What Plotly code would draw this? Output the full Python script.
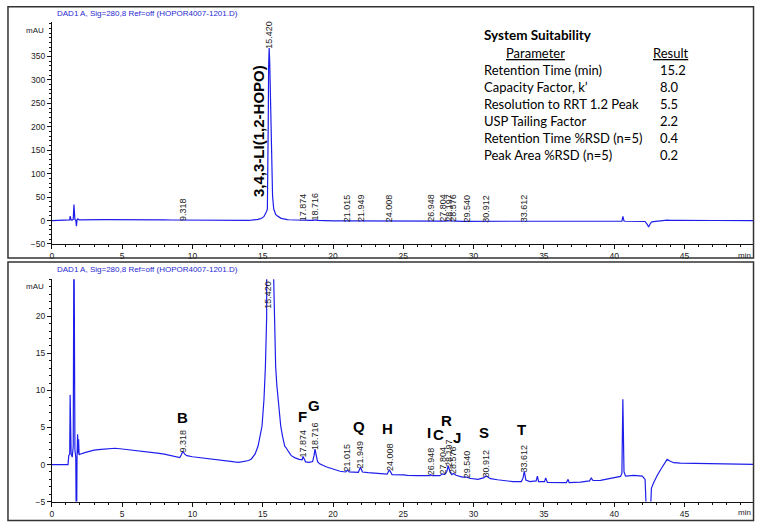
import numpy as np
import plotly.graph_objects as go

# ---------------- data ----------------
time_min = [
    0.0, 1.15, 1.20, 1.27, 1.30, 1.32, 1.34, 1.37, 1.45, 1.52, 1.57, 1.61, 1.64, 1.70,
    1.75, 1.79, 1.83, 1.87, 1.90, 1.94, 2.0, 2.4, 3.0, 3.5, 4.0, 4.5, 5.0, 5.5, 6.0,
    6.5, 7.0, 7.5, 8.0, 8.5, 8.9, 9.1, 9.2, 9.32, 9.45, 9.6, 10.0, 10.6, 11.6, 12.4,
    13.0, 13.3, 13.7, 14.0, 14.19, 14.45, 14.67, 14.85, 14.95, 15.09, 15.19, 15.28,
    15.33, 15.36, 15.39, 15.42, 15.46, 15.50, 15.54, 15.58, 15.63, 15.70, 15.78,
    15.83, 15.92, 16.00, 16.09, 16.18, 16.28, 16.40, 16.56, 16.65, 16.75, 16.85,
    17.03, 17.3, 17.6, 17.80, 17.87, 17.93, 18.05, 18.3, 18.55, 18.65, 18.72, 18.80,
    18.90, 19.05, 19.5, 20.0, 20.5, 20.9, 21.02, 21.15, 21.8, 21.95, 22.1, 22.5,
    23.0, 23.5, 23.85, 24.01, 24.2, 25.0, 25.3, 26.0, 26.9, 26.95, 27.05, 27.6,
    27.8, 27.95, 28.10, 28.20, 28.32, 28.45, 28.58, 28.75, 29.2, 29.54, 29.7, 30.3,
    30.7, 30.91, 31.2, 31.7, 32.3, 32.8, 33.4, 33.52, 33.61, 33.72, 34.0, 34.45,
    34.54, 34.62, 35.05, 35.13, 35.25, 35.7, 36.6, 36.72, 36.8, 37.6, 38.25, 38.37,
    38.5, 39.03, 39.6, 40.2, 40.45, 40.55, 40.62, 40.70, 40.81, 41.4, 42.0, 42.2,
    42.35, 42.45, 42.55, 42.65, 42.8, 43.06, 43.4, 43.77, 44.0, 44.24, 44.71, 47.1,
    47.2, 49.9,
]
signal_mau = [
    0.0, 0.0, 1.2, 1.4, 9.4, 7.0, 8.2, 1.4, 1.0, 2.5, 34.0, 12.6, 2.0, 1.0,
    -12.0, 1.0, 4.1, 1.5, 3.4, 1.3, 1.4, 1.65, 1.95, 2.05, 2.1, 2.2, 2.1, 2.0, 1.95,
    1.85, 1.7, 1.55, 1.4, 1.2, 1.05, 0.95, 1.3, 1.8, 1.4, 1.2, 1.05, 0.9, 0.62, 0.45,
    0.35, 0.3, 0.4, 0.55, 0.76, 1.4, 2.5, 4.0, 5.2, 8.8, 13.2, 19.9,
    25.0, 80.0, 200.0, 330.0, 368.0, 335.0, 260.0, 180.0, 105.0, 52.0, 25.0,
    20.0, 13.2, 10.8, 8.8, 6.8, 5.2, 3.9, 2.5, 2.3, 1.9, 1.7,
    1.2, 0.9, 0.7, 0.65, 1.1, 0.9, 0.35, 0.3, 0.4, 1.2, 2.1, 1.3,
    0.4, 0.1, -0.3, -0.6, -0.9, -1.0, -0.75, -1.0, -1.05, -0.35, -1.0, -1.1,
    -1.15, -1.3, -1.3, -0.7, -1.35, -1.4, -1.47, -1.5, -1.5, -1.35, -1.5, -1.5,
    -1.25, -1.35, -0.9, -0.15, -1.0, -1.35, -1.2, -1.45, -1.7, -1.7, -1.85, -2.0,
    -1.8, -1.55, -1.9, -2.05, -2.2, -2.3, -2.3, -1.8, -0.9, -2.1, -2.3, -2.2,
    -1.56, -2.3, -2.3, -1.8, -2.4, -2.45, -2.45, -2.0, -2.45, -2.36, -2.2, -1.83,
    -2.15, -2.14, -1.95, -1.7, -1.6, -1.2, 8.8, -1.0, -1.56, -1.47, -1.56, -2.0,
    -8.0, -14.0, -8.0, -3.2, -2.5, -1.47, -0.4, 0.7, 0.45, 0.25, 0.18, 0.13,
    0.04, 0.02,
]

peak_rt = [9.318, 15.420, 17.874, 18.716, 21.015, 21.949, 24.008, 26.948,
           27.804, 28.197, 28.576, 29.540, 30.912, 33.612]
peak_text = ["9.318", "15.420", "17.874", "18.716", "21.015", "21.949", "24.008",
             "26.948", "27.804", "28.197", "28.576", "29.540", "30.912", "33.612"]

impurity_letters = ["B", "F", "G", "Q", "H", "I", "C", "R", "J", "S", "T"]
impurity_rt = [9.3, 17.8, 18.64, 21.84, 23.9, 26.8, 27.5, 28.1, 28.8, 30.75, 33.43]

x_ticks = [0, 5, 10, 15, 20, 25, 30, 35, 40, 45]
y_top_ticks = [-50, 0, 50, 100, 150, 200, 250, 300, 350]
y_bot_ticks = [-5, 0, 5, 10, 15, 20]

table_params = ["Retention Time (min)", "Capacity Factor, k\u2019",
                "Resolution to RRT 1.2 Peak", "USP Tailing Factor",
                "Retention Time %RSD (n=5)", "Peak Area %RSD (n=5)"]
table_results = ["15.2", "8.0", "5.5", "2.2", "0.4", "0.2"]

main_compound = "3,4,3-LI(1,2-HOPO)"
signal_title = "DAD1 A, Sig=280,8 Ref=off (HOPOR4007-1201.D)"

# ---------------- layout helpers ----------------
W, H = 761, 530
def px(x):
    return x / W
def py(y):
    return (H - y) / H

X_RANGE = [0, 49.9]
TOP_RANGE = [-50, 422.5]
BOT_RANGE = [-5, 25]

LINE = "rgb(30,30,235)"
TXT = "#222222"
FONT = "Liberation Sans, Arial, sans-serif"

t = np.array(time_min)
s = np.array(signal_mau)

fig = go.Figure()
for xa, ya in (("x", "y"), ("x2", "y2")):
    fig.add_trace(go.Scatter(x=time_min, y=signal_mau, mode="lines",
                             line=dict(color=LINE, width=1.2),
                             xaxis=xa, yaxis=ya, showlegend=False,
                             hoverinfo="x+y"))

axis_common = dict(showline=True, linecolor="#111111", linewidth=1,
                   ticks="outside", ticklen=4, tickcolor="#111111",
                   showgrid=False, zeroline=False,
                   tickfont=dict(family=FONT, size=8.5, color=TXT))

x_dom = [px(50), px(753.3)]
fig.update_layout(
    width=W, height=H, margin=dict(l=0, r=0, t=0, b=0),
    paper_bgcolor="white", plot_bgcolor="white",
    xaxis=dict(domain=x_dom, range=X_RANGE, anchor="y", tickvals=x_ticks,
               minor=dict(dtick=1, ticks="outside", ticklen=2, tickcolor="#111111"),
               **axis_common),
    yaxis=dict(domain=[py(246.3), py(22.7)], range=TOP_RANGE, anchor="x",
               tickvals=y_top_ticks,
               minor=dict(dtick=10, ticks="outside", ticklen=2, tickcolor="#111111"),
               **axis_common),
    xaxis2=dict(domain=x_dom, range=X_RANGE, anchor="y2", tickvals=x_ticks,
                minor=dict(dtick=1, ticks="outside", ticklen=2, tickcolor="#111111"),
                **axis_common),
    yaxis2=dict(domain=[py(506.4), py(281.9)], range=BOT_RANGE, anchor="x2",
                tickvals=y_bot_ticks,
                minor=dict(dtick=1, ticks="outside", ticklen=2, tickcolor="#111111"),
                **axis_common),
)

shapes = []
for (y0, y1) in ((6.7, 260.5), (264.5, 525.5)):
    shapes.append(dict(type="rect", xref="paper", yref="paper",
                       x0=px(6), x1=px(753.5), y0=py(y1), y1=py(y0),
                       line=dict(color="#333333", width=1.5)))
fig.update_layout(shapes=shapes)

ann = []
# panel titles, units
for ty, my, miny in ((13.3, 30.7, 258.3), (271.7, 289.3, 517.3)):
    ann.append(dict(xref="paper", yref="paper", x=px(53), y=py(ty), text=signal_title,
                    showarrow=False, xanchor="left", yanchor="middle",
                    font=dict(family=FONT, size=8, color="#2a2ad0")))
    ann.append(dict(xref="paper", yref="paper", x=px(44), y=py(my), text="mAU",
                    showarrow=False, xanchor="right", yanchor="middle",
                    font=dict(family=FONT, size=8, color=TXT)))
    ann.append(dict(xref="paper", yref="paper", x=px(753), y=py(miny), text="min",
                    showarrow=False, xanchor="right", yanchor="middle",
                    font=dict(family=FONT, size=8, color=TXT)))

# retention-time labels on peaks
def apex(rt):
    m = (t >= rt - 0.1) & (t <= rt + 0.1)
    if m.any():
        return float(s[m].max())
    return float(np.interp(rt, t, s))

for rt, lab in zip(peak_rt, peak_text):
    h = apex(rt)
    ann.append(dict(xref="x", yref="y", x=rt, y=h, text=lab, textangle=-90,
                    showarrow=False, xanchor="center", yanchor="bottom", yshift=-3,
                    font=dict(family=FONT, size=9, color=TXT)))
    if h > BOT_RANGE[1]:
        ann.append(dict(xref="x2", yref="y2", x=rt, y=BOT_RANGE[1], text=lab,
                        textangle=-90, showarrow=False, xanchor="center",
                        yanchor="top", yshift=0,
                        font=dict(family=FONT, size=9, color=TXT)))
    else:
        ann.append(dict(xref="x2", yref="y2", x=rt, y=h, text=lab, textangle=-90,
                        showarrow=False, xanchor="center", yanchor="bottom", yshift=-3,
                        font=dict(family=FONT, size=9, color=TXT)))

# impurity letters (bottom panel)
letter_y = [6.4, 6.5, 8.0, 5.1, 4.9, 4.3, 4.1, 5.9, 3.7, 4.3, 4.7]
for L, rt, ly in zip(impurity_letters, impurity_rt, letter_y):
    ann.append(dict(xref="x2", yref="y2", x=rt, y=ly, text=f"<b>{L}</b>",
                    showarrow=False, xanchor="center", yanchor="middle",
                    font=dict(family=FONT, size=15, color="black")))

# main compound label (top panel)
ann.append(dict(xref="x", yref="y", x=14.7, y=190, text=f"<b>{main_compound}</b>",
                textangle=-90, showarrow=False, xanchor="center", yanchor="middle",
                font=dict(family=FONT, size=15, color="black")))

# system suitability table
TF = "Lato, Carlito, Calibri, sans-serif"
TS = 13
ann.append(dict(xref="paper", yref="paper", x=px(481), y=py(35), text="<b>System Suitability</b>",
                showarrow=False, xanchor="left", yanchor="middle",
                font=dict(family=TF, size=13.5, color="black")))
ann.append(dict(xref="paper", yref="paper", x=px(535), y=py(53.3), text="<u>Parameter</u>",
                showarrow=False, xanchor="center", yanchor="middle",
                font=dict(family=TF, size=TS, color="black")))
ann.append(dict(xref="paper", yref="paper", x=px(670.8), y=py(53.3), text="<u>Result</u>",
                showarrow=False, xanchor="center", yanchor="middle",
                font=dict(family=TF, size=TS, color="black")))
row_y = [70.7, 87.8, 105.0, 122.2, 139.4, 156.6]
for p, r, yy in zip(table_params, table_results, row_y):
    ann.append(dict(xref="paper", yref="paper", x=px(481), y=py(yy), text=p,
                    showarrow=False, xanchor="left", yanchor="middle",
                    font=dict(family=TF, size=TS, color="black")))
    ann.append(dict(xref="paper", yref="paper", x=px(658), y=py(yy), text=r,
                    showarrow=False, xanchor="left", yanchor="middle",
                    font=dict(family=TF, size=TS, color="black")))

fig.update_layout(annotations=ann)
fig.write_html("out.html", config={"displayModeBar": False},
               post_script="document.body.style.margin='0px';document.body.style.padding='0px';")
